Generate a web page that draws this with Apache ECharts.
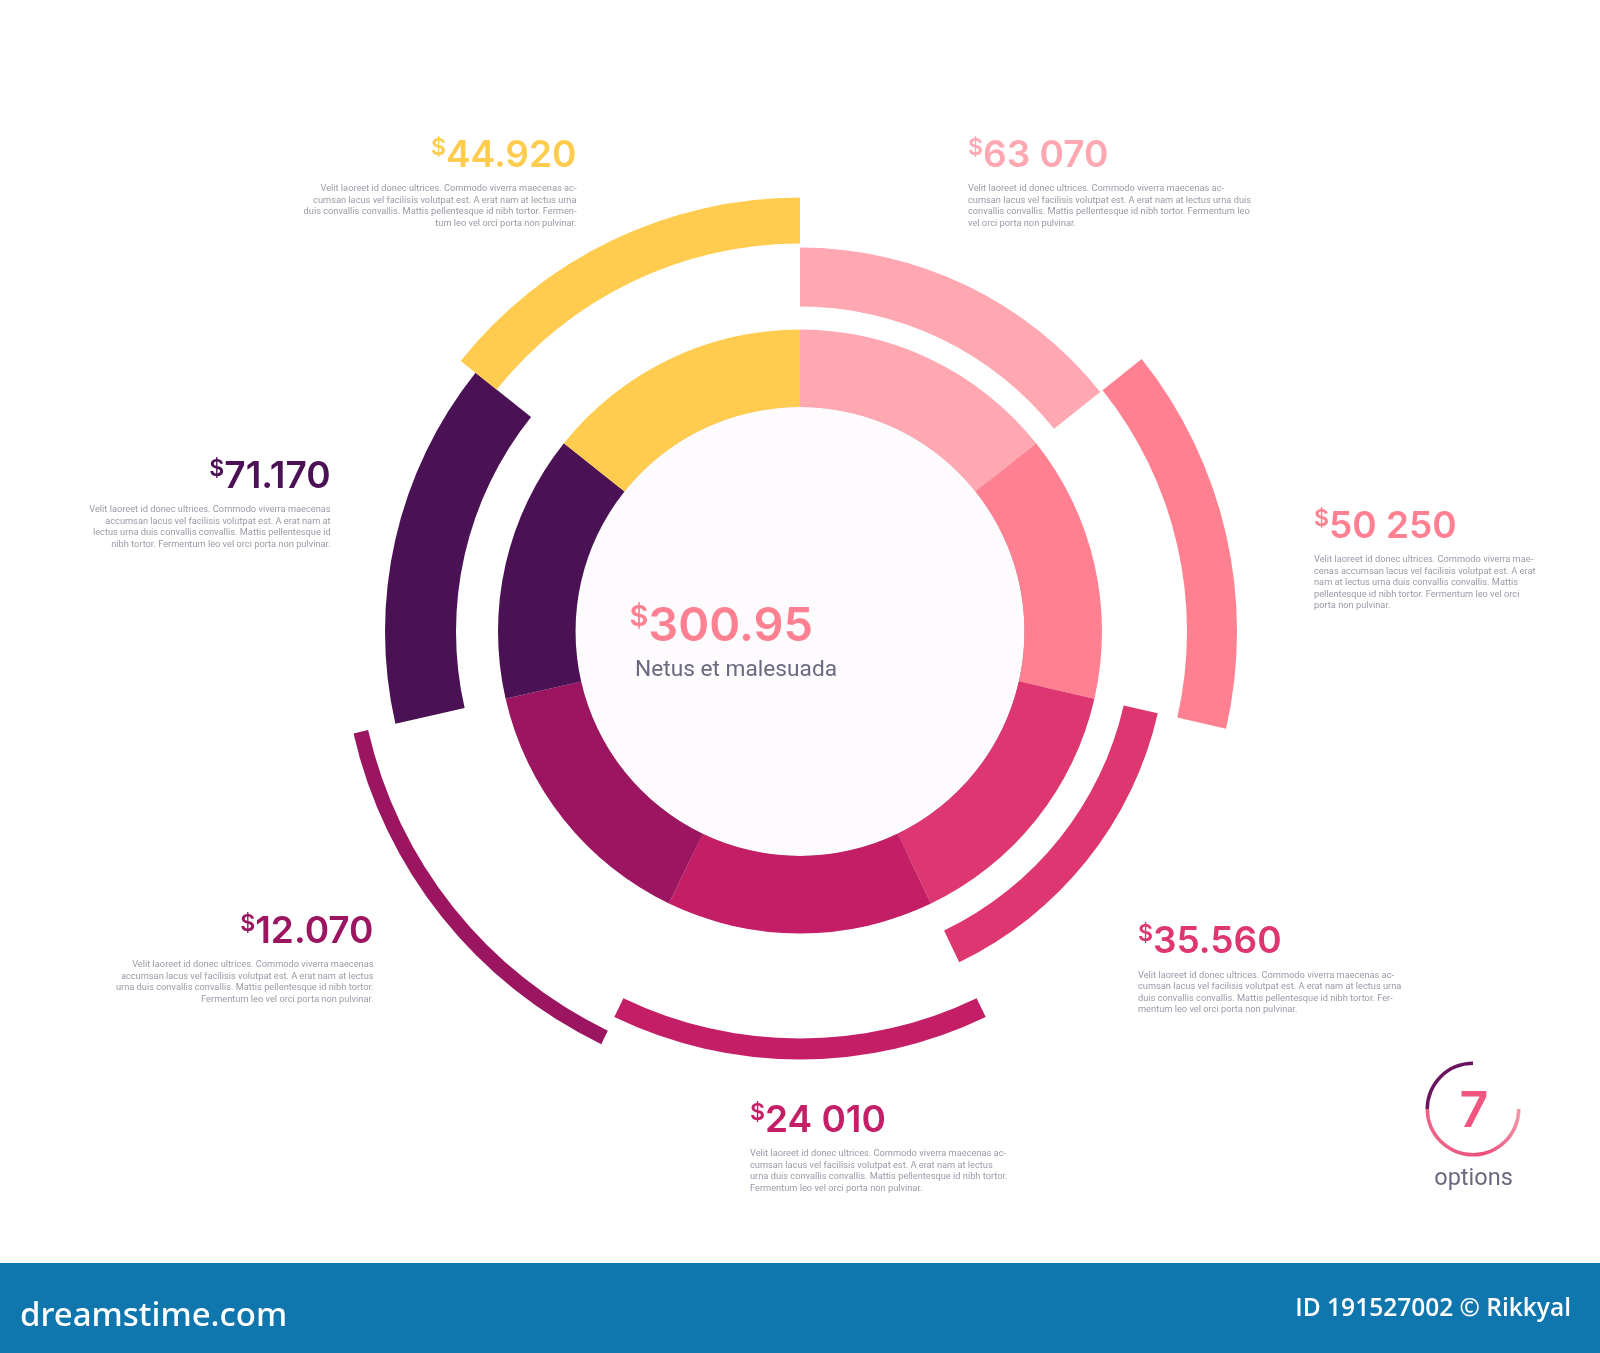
<!DOCTYPE html>
<html>
<head>
<meta charset="utf-8" />
<title>7 options</title>
<style>
html,body{margin:0;padding:0;background:#fff;}
#chart{width:1600px;height:1353px;}
</style>
</head>
<body>
<div id="chart"></div>
<script src="https://cdn.jsdelivr.net/npm/echarts@6/dist/echarts.min.js"></script>
<script>
// seven equal slices, clockwise from the top
var categories = ['63 070', '50 250', '35.560', '24 010', '12.070', '71.170', '44.920'];
// inner ring: where each slice starts and how thick it is (radial units)
var ringStart = [224.5, 224.5, 224.5, 224.5, 224.5, 224.5, 224.5];
var ringWidth = [77.5, 77.5, 77.5, 77.5, 77.5, 77.5, 77.5];
// outer arcs: gap above the ring and thickness
var outerGap = [23, 85, 30, 105, 141, 42, 86];
var outerWidth = [59, 50, 35, 21, 15, 71, 46];
var sliceColors = ['#FFA8B2', '#FF8091', '#DE3670', '#C41E66', '#9C1560', '#4A1254', '#FFCC50'];
var iconShare = [90, 180, 90];

var bodyFont = 'Roboto';
var numFont = 'Inter';
var greyText = '#9b99a8';

// text blocks around the chart
var blocks = [
	{ i: 0, align: 'left', x: 968, base: 167, py: 189, lines: [
		'Velit laoreet id donec ultrices. Commodo viverra maecenas ac-',
		'cumsan lacus vel facilisis volutpat est. A erat nam at lectus urna duis',
		'convallis convallis. Mattis pellentesque id nibh tortor. Fermentum leo',
		'vel orci porta non pulvinar.'] },
	{ i: 1, align: 'left', x: 1314, base: 538, py: 560, lines: [
		'Velit laoreet id donec ultrices. Commodo viverra mae-',
		'cenas accumsan lacus vel facilisis volutpat est. A erat',
		'nam at lectus urna duis convallis convallis. Mattis',
		'pellentesque id nibh tortor. Fermentum leo vel orci',
		'porta non pulvinar.'] },
	{ i: 2, align: 'left', x: 1138, base: 953, py: 975.5, lines: [
		'Velit laoreet id donec ultrices. Commodo viverra maecenas ac-',
		'cumsan lacus vel facilisis volutpat est. A erat nam at lectus urna',
		'duis convallis convallis. Mattis pellentesque id nibh tortor. Fer-',
		'mentum leo vel orci porta non pulvinar.'] },
	{ i: 3, align: 'left', x: 750, base: 1132, py: 1154, lines: [
		'Velit laoreet id donec ultrices. Commodo viverra maecenas ac-',
		'cumsan lacus vel facilisis volutpat est. A erat nam at lectus',
		'urna duis convallis convallis. Mattis pellentesque id nibh tortor.',
		'Fermentum leo vel orci porta non pulvinar.'] },
	{ i: 4, align: 'right', x: 373.5, base: 943, py: 965, lines: [
		'Velit laoreet id donec ultrices. Commodo viverra maecenas',
		'accumsan lacus vel facilisis volutpat est. A erat nam at lectus',
		'urna duis convallis convallis. Mattis pellentesque id nibh tortor.',
		'Fermentum leo vel orci porta non pulvinar.'] },
	{ i: 5, align: 'right', x: 330.6, base: 488, py: 510, lines: [
		'Velit laoreet id donec ultrices. Commodo viverra maecenas',
		'accumsan lacus vel facilisis volutpat est. A erat nam at',
		'lectus urna duis convallis convallis. Mattis pellentesque id',
		'nibh tortor. Fermentum leo vel orci porta non pulvinar.'] },
	{ i: 6, align: 'right', x: 576.5, base: 167, py: 189, lines: [
		'Velit laoreet id donec ultrices. Commodo viverra maecenas ac-',
		'cumsan lacus vel facilisis volutpat est. A erat nam at lectus urna',
		'duis convallis convallis. Mattis pellentesque id nibh tortor. Fermen-',
		'tum leo vel orci porta non pulvinar.'] }
];

function moneyText(x, base, align, value, color, size) {
	return {
		type: 'text', x: x, y: base + size * 0.19,
		style: {
			text: '{s|$}{n|' + value + '}',
			align: align, textAlign: align, verticalAlign: 'bottom', textVerticalAlign: 'bottom',
			rich: {
				s: { font: '600 ' + Math.round(size * 0.62) + 'px ' + numFont, fill: color, verticalAlign: 'top', lineHeight: size },
				n: { font: '600 ' + size + 'px ' + numFont, fill: color, lineHeight: size }
			}
		}
	};
}

var graphics = [];
// footer band
graphics.push({ type: 'rect', shape: { x: 0, y: 1263, width: 1600, height: 90 }, style: { fill: '#0F76AE' } });
graphics.push({ type: 'text', x: 20, y: 1333, style: { text: 'dreamstime.com', font: '500 33px "Noto Sans"', fill: '#fff', textVerticalAlign: 'bottom', verticalAlign: 'bottom' } });
graphics.push({ type: 'text', x: 1571, y: 1322, style: { text: 'ID 191527002 © Rikkyal', font: '600 24.5px "Open Sans"', fill: '#fff', align: 'right', textAlign: 'right', verticalAlign: 'bottom', textVerticalAlign: 'bottom' } });
// soft shadow under the centre disc, pushed down and right
graphics.push({
	type: 'circle', shape: { cx: 810, cy: 643, r: 262 },
	style: {
		fill: new echarts.graphic.RadialGradient(0.5, 0.5, 0.5, [
			{ offset: 0, color: 'rgba(50,0,40,0.5)' },
			{ offset: 0.84, color: 'rgba(50,0,40,0.5)' },
			{ offset: 0.92, color: 'rgba(50,0,40,0.16)' },
			{ offset: 1, color: 'rgba(50,0,40,0)' }
		])
	}
});
graphics.push({ type: 'circle', shape: { cx: 800, cy: 631.5, r: 224.5 }, style: { fill: '#FDFBFD' } });
graphics.push(moneyText(813, 641, 'right', '300.95', '#FF8091', 47));
graphics.push({ type: 'text', x: 635, y: 670, style: { text: 'Netus et malesuada', font: '400 22.7px ' + bodyFont, fill: '#6b6880', verticalAlign: 'middle', textVerticalAlign: 'middle' } });
// icon text
graphics.push({ type: 'text', x: 1474, y: 1112, style: { text: '7', font: '600 50px ' + numFont, fill: '#F0567F', align: 'center', textAlign: 'center', verticalAlign: 'middle', textVerticalAlign: 'middle' } });
graphics.push({ type: 'text', x: 1473.5, y: 1179, style: { text: 'options', font: '400 23.5px ' + bodyFont, fill: '#6b6880', align: 'center', textAlign: 'center', verticalAlign: 'middle', textVerticalAlign: 'middle' } });

blocks.forEach(function (b) {
	graphics.push(moneyText(b.x, b.base, b.align, categories[b.i], sliceColors[b.i], 37));
	graphics.push({
		type: 'text', x: b.x, y: b.py - 5.7,
		style: {
			text: b.lines.join('\n'), font: '400 9.25px ' + bodyFont, fill: greyText, lineHeight: 11.4,
			align: b.align, textAlign: b.align, verticalAlign: 'top', textVerticalAlign: 'top'
		}
	});
});

function stackSeries(values, colors) {
	return {
		type: 'bar', coordinateSystem: 'polar', stack: 'rings', barWidth: '100%', silent: true,
		data: values.map(function (v, i) {
			return { value: v, itemStyle: { color: colors ? colors[i] : 'transparent' } };
		})
	};
}

var chart = echarts.init(document.getElementById('chart'));
chart.setOption({
	animation: false,
	backgroundColor: '#ffffff',
	polar: { center: [800, 631.5], radius: [0, 500] },
	radiusAxis: { type: 'value', min: 0, max: 500, show: false },
	angleAxis: { type: 'category', data: categories, startAngle: 90, show: false },
	series: [
		stackSeries(ringStart),
		stackSeries(ringWidth, sliceColors),
		stackSeries(outerGap),
		stackSeries(outerWidth, sliceColors),
		{
			type: 'pie', center: [1473, 1109], radius: [44, 47.5], startAngle: 90, clockwise: true,
			silent: true, label: { show: false }, labelLine: { show: false },
			data: [
				{ value: iconShare[0], itemStyle: { color: 'transparent' } },
				{ value: iconShare[1], itemStyle: { color: new echarts.graphic.LinearGradient(1, 0, 0, 1, [{ offset: 0, color: '#F29AA9' }, { offset: 0.5, color: '#EA4F7C' }, { offset: 1, color: '#EF6C8C' }]) } },
				{ value: iconShare[2], itemStyle: { color: '#6B1460' } }
			]
		}
	],
	graphic: { elements: graphics }
});
</script>
</body>
</html>
